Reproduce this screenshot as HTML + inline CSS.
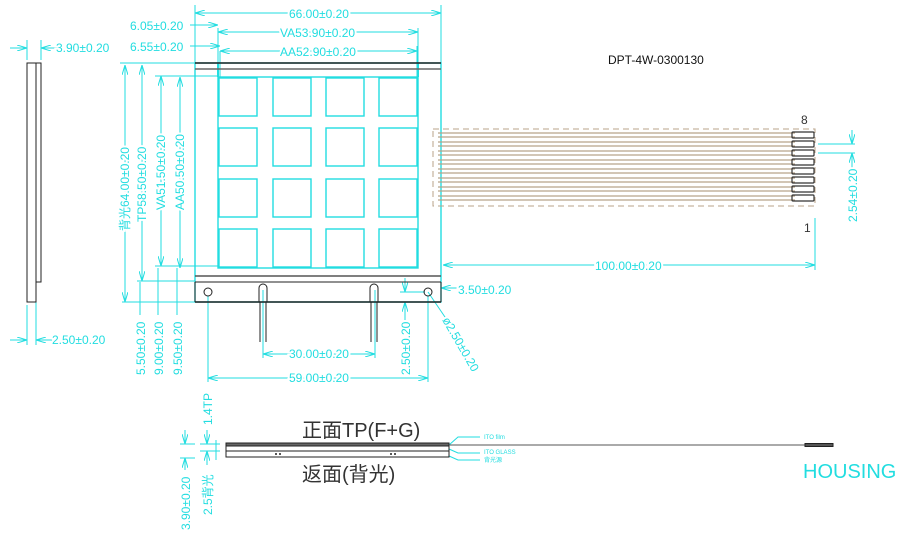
<!DOCTYPE html>
<html><head><meta charset="utf-8"><style>
html,body{margin:0;padding:0;background:#fff;}
svg{display:block;}
text{font-family:"Liberation Sans","Noto Sans CJK SC",sans-serif;}
.c text{paint-order:stroke;stroke:#fff;stroke-width:4px;}
</style></head><body>
<svg width="913" height="539" viewBox="0 0 913 539" xmlns="http://www.w3.org/2000/svg">
<defs>
<marker id="a" viewBox="0 0 10 6" refX="10" refY="3" markerWidth="10" markerHeight="6" orient="auto-start-reverse" markerUnits="userSpaceOnUse"><path d="M0,0 L10,3 L0,6" fill="none" stroke="#22dde0" stroke-width="1"/></marker>
</defs>
<g stroke="#22dde0" stroke-width="1" fill="none">
<line x1="27" y1="40" x2="27" y2="60"/><line x1="41" y1="40" x2="41" y2="60"/>
<line x1="10" y1="48" x2="27" y2="48" marker-end="url(#a)"/><line x1="58" y1="48" x2="41" y2="48" marker-end="url(#a)"/>
<line x1="27" y1="305" x2="27" y2="345"/><line x1="36" y1="290" x2="36" y2="345"/>
<line x1="10" y1="340" x2="27" y2="340" marker-end="url(#a)"/><line x1="52" y1="340" x2="36" y2="340" marker-end="url(#a)"/>
<line x1="195" y1="5" x2="195" y2="63"/><line x1="441" y1="5" x2="441" y2="63"/>
<line x1="195" y1="13" x2="441" y2="13" marker-start="url(#a)" marker-end="url(#a)"/>
<line x1="218" y1="28" x2="218" y2="78"/><line x1="418" y1="28" x2="418" y2="78"/>
<line x1="220" y1="51" x2="220" y2="78"/><line x1="417" y1="46" x2="417" y2="78"/>
<line x1="218" y1="32" x2="418" y2="32" marker-start="url(#a)" marker-end="url(#a)"/>
<line x1="220" y1="51" x2="417" y2="51" marker-start="url(#a)" marker-end="url(#a)"/>
<line x1="190" y1="25" x2="218" y2="25" marker-end="url(#a)"/>
<line x1="190" y1="46" x2="220" y2="46" marker-end="url(#a)"/>
<line x1="125" y1="65" x2="125" y2="302" marker-start="url(#a)" marker-end="url(#a)"/>
<line x1="142" y1="65" x2="142" y2="281" marker-start="url(#a)" marker-end="url(#a)"/>
<line x1="161" y1="76" x2="161" y2="266" marker-start="url(#a)" marker-end="url(#a)"/>
<line x1="180" y1="77" x2="180" y2="268" marker-start="url(#a)" marker-end="url(#a)"/>
<line x1="120" y1="63" x2="195" y2="63"/>
<line x1="155" y1="76" x2="218" y2="76"/>
<line x1="155" y1="266" x2="218" y2="266"/>
<line x1="137" y1="281" x2="195" y2="281"/>
<line x1="122" y1="302" x2="195" y2="302"/>
<line x1="140" y1="282" x2="140" y2="315"/><line x1="158" y1="268" x2="158" y2="315"/><line x1="177" y1="268" x2="177" y2="315"/>
<g stroke-width="1.4">
<rect x="218" y="77" width="200" height="191"/>
<rect x="219" y="78" width="38" height="38"/><rect x="273" y="78" width="38" height="38"/><rect x="326" y="78" width="38" height="38"/><rect x="379" y="78" width="38" height="38"/>
<rect x="219" y="128" width="38" height="38"/><rect x="273" y="128" width="38" height="38"/><rect x="326" y="128" width="38" height="38"/><rect x="379" y="128" width="38" height="38"/>
<rect x="219" y="179" width="38" height="38"/><rect x="273" y="179" width="38" height="38"/><rect x="326" y="179" width="38" height="38"/><rect x="379" y="179" width="38" height="38"/>
<rect x="219" y="229" width="38" height="38"/><rect x="273" y="229" width="38" height="38"/><rect x="326" y="229" width="38" height="38"/><rect x="379" y="229" width="38" height="38"/>
<rect x="195" y="63" width="246" height="239"/>
</g>
<line x1="218" y1="63" x2="218" y2="77" stroke-width="2"/><line x1="418" y1="63" x2="418" y2="77" stroke-width="2"/>
<line x1="208" y1="296" x2="208" y2="382"/><line x1="428" y1="296" x2="428" y2="382"/>
<line x1="208" y1="378" x2="428" y2="378" marker-start="url(#a)" marker-end="url(#a)"/>
<line x1="263" y1="290" x2="263" y2="358"/><line x1="375" y1="290" x2="375" y2="358"/>
<line x1="263" y1="354" x2="375" y2="354" marker-start="url(#a)" marker-end="url(#a)"/>
<line x1="405" y1="278" x2="405" y2="292" marker-end="url(#a)"/><line x1="405" y1="320" x2="405" y2="302" marker-end="url(#a)"/>
<line x1="400" y1="292" x2="425" y2="292"/>
<line x1="460" y1="288" x2="441" y2="288" marker-end="url(#a)"/>
<line x1="428" y1="292" x2="447" y2="320"/>
<line x1="443" y1="265" x2="815" y2="265" marker-start="url(#a)" marker-end="url(#a)"/>
<line x1="815" y1="218" x2="815" y2="270"/>
<line x1="818" y1="144" x2="855" y2="144"/><line x1="818" y1="153" x2="855" y2="153"/>
<line x1="852" y1="130" x2="852" y2="144" marker-end="url(#a)"/><line x1="852" y1="170" x2="852" y2="153" marker-end="url(#a)"/>
<line x1="180" y1="444" x2="195" y2="444"/><line x1="180" y1="458" x2="195" y2="458"/>
<line x1="185" y1="430" x2="185" y2="444" marker-end="url(#a)"/><line x1="185" y1="470" x2="185" y2="458" marker-end="url(#a)"/>
<line x1="200" y1="444" x2="220" y2="444"/><line x1="200" y1="451" x2="220" y2="451"/>
<line x1="207" y1="430" x2="207" y2="444" marker-end="url(#a)"/><line x1="207" y1="465" x2="207" y2="451" marker-end="url(#a)"/>
<line x1="216" y1="440" x2="216" y2="460"/>
<path d="M449,445 L458,437 L480,437"/><path d="M449,449 L458,453 L480,453"/><path d="M449,456 L458,460 L480,460"/>
</g>
<g class="c" fill="#22dde0" font-size="12">
<text x="56" y="52">3.90±0.20</text>
<text x="52" y="344">2.50±0.20</text>
<text x="289" y="18">66.00±0.20</text>
<text x="280" y="37">VA53.90±0.20</text>
<text x="280" y="56">AA52.90±0.20</text>
<text x="130" y="30">6.05±0.20</text>
<text x="130" y="51">6.55±0.20</text>
<text transform="translate(129,231) rotate(-90)">背光64.00±0.20</text>
<text transform="translate(146,222) rotate(-90)">TP58.50±0.20</text>
<text transform="translate(165,210) rotate(-90)">VA51.50±0.20</text>
<text transform="translate(184,210) rotate(-90)">AA50.50±0.20</text>
<text transform="translate(145,375) rotate(-90)">5.50±0.20</text>
<text transform="translate(163,375) rotate(-90)">9.00±0.20</text>
<text transform="translate(182,375) rotate(-90)">9.50±0.20</text>
<text transform="translate(410,375) rotate(-90)">2.50±0.20</text>
<text transform="translate(442,320) rotate(60)">ø2.50±0.20</text>
<text x="458" y="294">3.50±0.20</text>
<text x="289" y="358">30.00±0.20</text>
<text x="289" y="382">59.00±0.20</text>
<text x="595" y="270">100.00±0.20</text>
<text transform="translate(857,222) rotate(-90)">2.54±0.20</text>
<text transform="translate(190,530) rotate(-90)">3.90±0.20</text>
<text transform="translate(212,515) rotate(-90)">2.5背光</text>
<text transform="translate(212,425) rotate(-90)">1.4TP</text>
<text x="803" y="478" font-size="20" style="stroke:none">HOUSING</text>
<text x="484" y="439" font-size="6" style="stroke:none">ITO  film</text>
<text x="484" y="454" font-size="6" style="stroke:none">ITO GLASS</text>
<text x="484" y="462" font-size="6" style="stroke:none">背光源</text>
</g>
<g stroke="#222" fill="none">
<rect x="27" y="63" width="9" height="239"/>
<rect x="36" y="63" width="5" height="219"/>
<line x1="195" y1="63" x2="441" y2="63" stroke-width="1.5"/>
<line x1="195" y1="69" x2="441" y2="69" stroke="#666" stroke-width="1.5"/>
<line x1="195" y1="276" x2="441" y2="276" stroke="#555" stroke-width="1.5"/>
<line x1="195" y1="282" x2="441" y2="282"/>
<line x1="195" y1="302" x2="441" y2="302" stroke-width="1.5"/>
<line x1="195" y1="282" x2="195" y2="302"/><line x1="441" y1="282" x2="441" y2="302"/>
<circle cx="208" cy="292" r="4"/><circle cx="428" cy="292" r="4"/>
<path d="M259,302 L259,288 A4,4 0 0 1 267,288 L267,302"/>
<path d="M370,302 L370,288 A4,4 0 0 1 378,288 L378,302"/>
<line x1="260" y1="302" x2="260" y2="342"/><line x1="266" y1="302" x2="266" y2="342"/>
<line x1="371" y1="302" x2="371" y2="342"/><line x1="377" y1="302" x2="377" y2="342"/>
<rect x="226" y="443" width="223" height="3" fill="#666"/>
<rect x="226" y="446" width="223" height="5"/>
<rect x="226" y="451" width="223" height="6"/>
<line x1="449" y1="445" x2="805" y2="445" stroke="#555"/>
<rect x="805" y="443.5" width="28" height="3" fill="#555"/>
</g>
<g fill="#222"><circle cx="276" cy="454" r="1"/><circle cx="280" cy="454" r="1"/><circle cx="391" cy="454" r="1"/><circle cx="395" cy="454" r="1"/></g>
<g stroke="#b8a38a" fill="none">
<rect x="433" y="129" width="382" height="77" stroke-dasharray="6,4"/>
<g stroke-width="1.3">
<line x1="438" y1="133" x2="795" y2="133"/><line x1="438" y1="142" x2="795" y2="142"/>
<line x1="438" y1="151" x2="795" y2="151"/><line x1="438" y1="160" x2="795" y2="160"/>
<line x1="438" y1="169" x2="795" y2="169"/><line x1="438" y1="178" x2="795" y2="178"/>
<line x1="438" y1="187" x2="795" y2="187"/><line x1="438" y1="196" x2="795" y2="196"/>
<line x1="438" y1="137" x2="795" y2="137"/><line x1="438" y1="146" x2="795" y2="146"/>
<line x1="438" y1="155" x2="795" y2="155"/><line x1="438" y1="164" x2="795" y2="164"/>
<line x1="438" y1="173" x2="795" y2="173"/><line x1="438" y1="182" x2="795" y2="182"/>
<line x1="438" y1="191" x2="795" y2="191"/><line x1="438" y1="200" x2="795" y2="200"/>
</g>
</g>
<g stroke="#333" fill="none" stroke-width="1.2">
<rect x="792" y="132" width="22" height="6" rx="1"/><rect x="792" y="141" width="22" height="6" rx="1"/>
<rect x="792" y="150" width="22" height="6" rx="1"/><rect x="792" y="159" width="22" height="6" rx="1"/>
<rect x="792" y="168" width="22" height="6" rx="1"/><rect x="792" y="177" width="22" height="6" rx="1"/>
<rect x="792" y="186" width="22" height="6" rx="1"/><rect x="792" y="195" width="22" height="6" rx="1"/>
</g>
<g fill="#333">
<text x="801" y="124" font-size="12">8</text>
<text x="804" y="232" font-size="12">1</text>
<text x="608" y="64" font-size="12" font-family="Liberation Mono, monospace" fill="#111">DPT-4W-0300130</text>
<text x="302" y="437" font-size="20">正面TP(F+G)</text>
<text x="302" y="481" font-size="20">返面(背光)</text>
</g>
</svg>
</body></html>
